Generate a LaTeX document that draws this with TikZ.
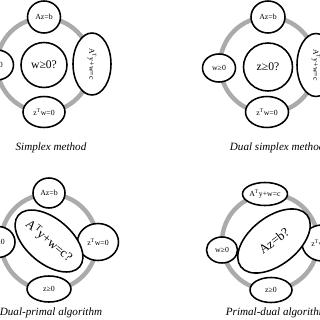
\documentclass[tikz,border=0pt]{standalone}
\usepackage{fontspec}
\setmainfont{Liberation Serif}
\usepackage{tikz}
\usetikzlibrary{shapes.geometric}
\definecolor{ringgray}{HTML}{ABABAB}
\tikzset{
  ring/.style={draw=ringgray, line width=4pt},
  cond/.style 2 args={
    ellipse, draw=black, line width=1.4pt, fill=white, inner sep=0pt,
    minimum width={#1*0.9pt}, minimum height={#2*0.9pt},
    font=\fontsize{7}{8}\selectfont,
  },
  test/.style={font=\fontsize{10.5}{12}\selectfont},
  bigtest/.style={font=\fontsize{11.5}{13}\selectfont},
  caption/.style={font=\fontsize{10}{12}\selectfont\itshape},
}

\begin{document}
\begin{tikzpicture}[x=0.9pt, y=-0.9pt]

\fill[white] (0,0) rectangle (320,320);
\clip (0,0) rectangle (320,320);

% Rings behind the conditions
\foreach \cx/\cy/\r in {44/65/47, 268/65/48, 49/242/48, 270/242/48}
{
  \draw[ring] (\cx,\cy) circle[radius=\r];
}

% Simplex method
\node[cond={33}{32}] (sAzb) at (44,17) {Az=b};
\node[cond={46}{45}, test] (sTest) at (44,65) {w≥0?};
\node[cond={62}{38}, rotate=-90] (sDual) at (92,64) {A$^{\mathrm{T}}$y+w=c};
\node[cond={42}{31}] (sCompl) at (44,112) {z$^{\mathrm{T}}$w=0};
\node[cond={33}{30}] (sPos) at (-3,65) {z≥0};
\node[caption] (sCap) at (51,148) {Simplex method};

% Dual simplex method
\node[cond={34}{32}] (dsAzb) at (268,17) {Az=b};
\node[cond={33}{28}] (dsPos) at (219,68) {w≥0};
\node[cond={49}{48}, test] (dsTest) at (268,67) {z≥0?};
\node[cond={43}{31}] (dsCompl) at (267,112) {z$^{\mathrm{T}}$w=0};
\node[cond={63}{38}, rotate=-90] (dsDual) at (316,65) {A$^{\mathrm{T}}$y+w=c};
\node[caption, anchor=west] (dsCap) at (226,148) {Dual simplex method};

% Dual-primal algorithm
\node[cond={32}{30}] (dpAzb) at (49,193) {Az=b};
\node[cond={41}{37}] (dpCompl) at (98,242) {z$^{\mathrm{T}}$w=0};
\node[cond={44}{26}] (dpPos) at (49,289) {z≥0};
\node[cond={34}{31}] (dpSlack) at (-2,242) {w≥0};
\node[cond={80}{45}, bigtest, rotate=-40] (dpTest) at (49,241)
   {A$^{\mathrm{T}}$y+w=c?};
\node[caption] (dpCap) at (51,313) {Dual-primal algorithm};

% Primal-dual algorithm
\node[cond={45}{23}] (pdDual) at (265,194) {A$^{\mathrm{T}}$y+w=c};
\node[cond={31}{26}] (pdSlack) at (222,250) {w≥0};
\node[cond={40}{36}] (pdCompl) at (322,243) {z$^{\mathrm{T}}$w=0};
\node[cond={42}{25}] (pdPos) at (271,290) {z≥0};
\node[cond={84}{48}, bigtest, rotate=38] (pdTest) at (274,241) {Az=b?};
\node[caption, anchor=west] (pdCap) at (222,313) {Primal-dual algorithm};

\end{tikzpicture}
\end{document}
